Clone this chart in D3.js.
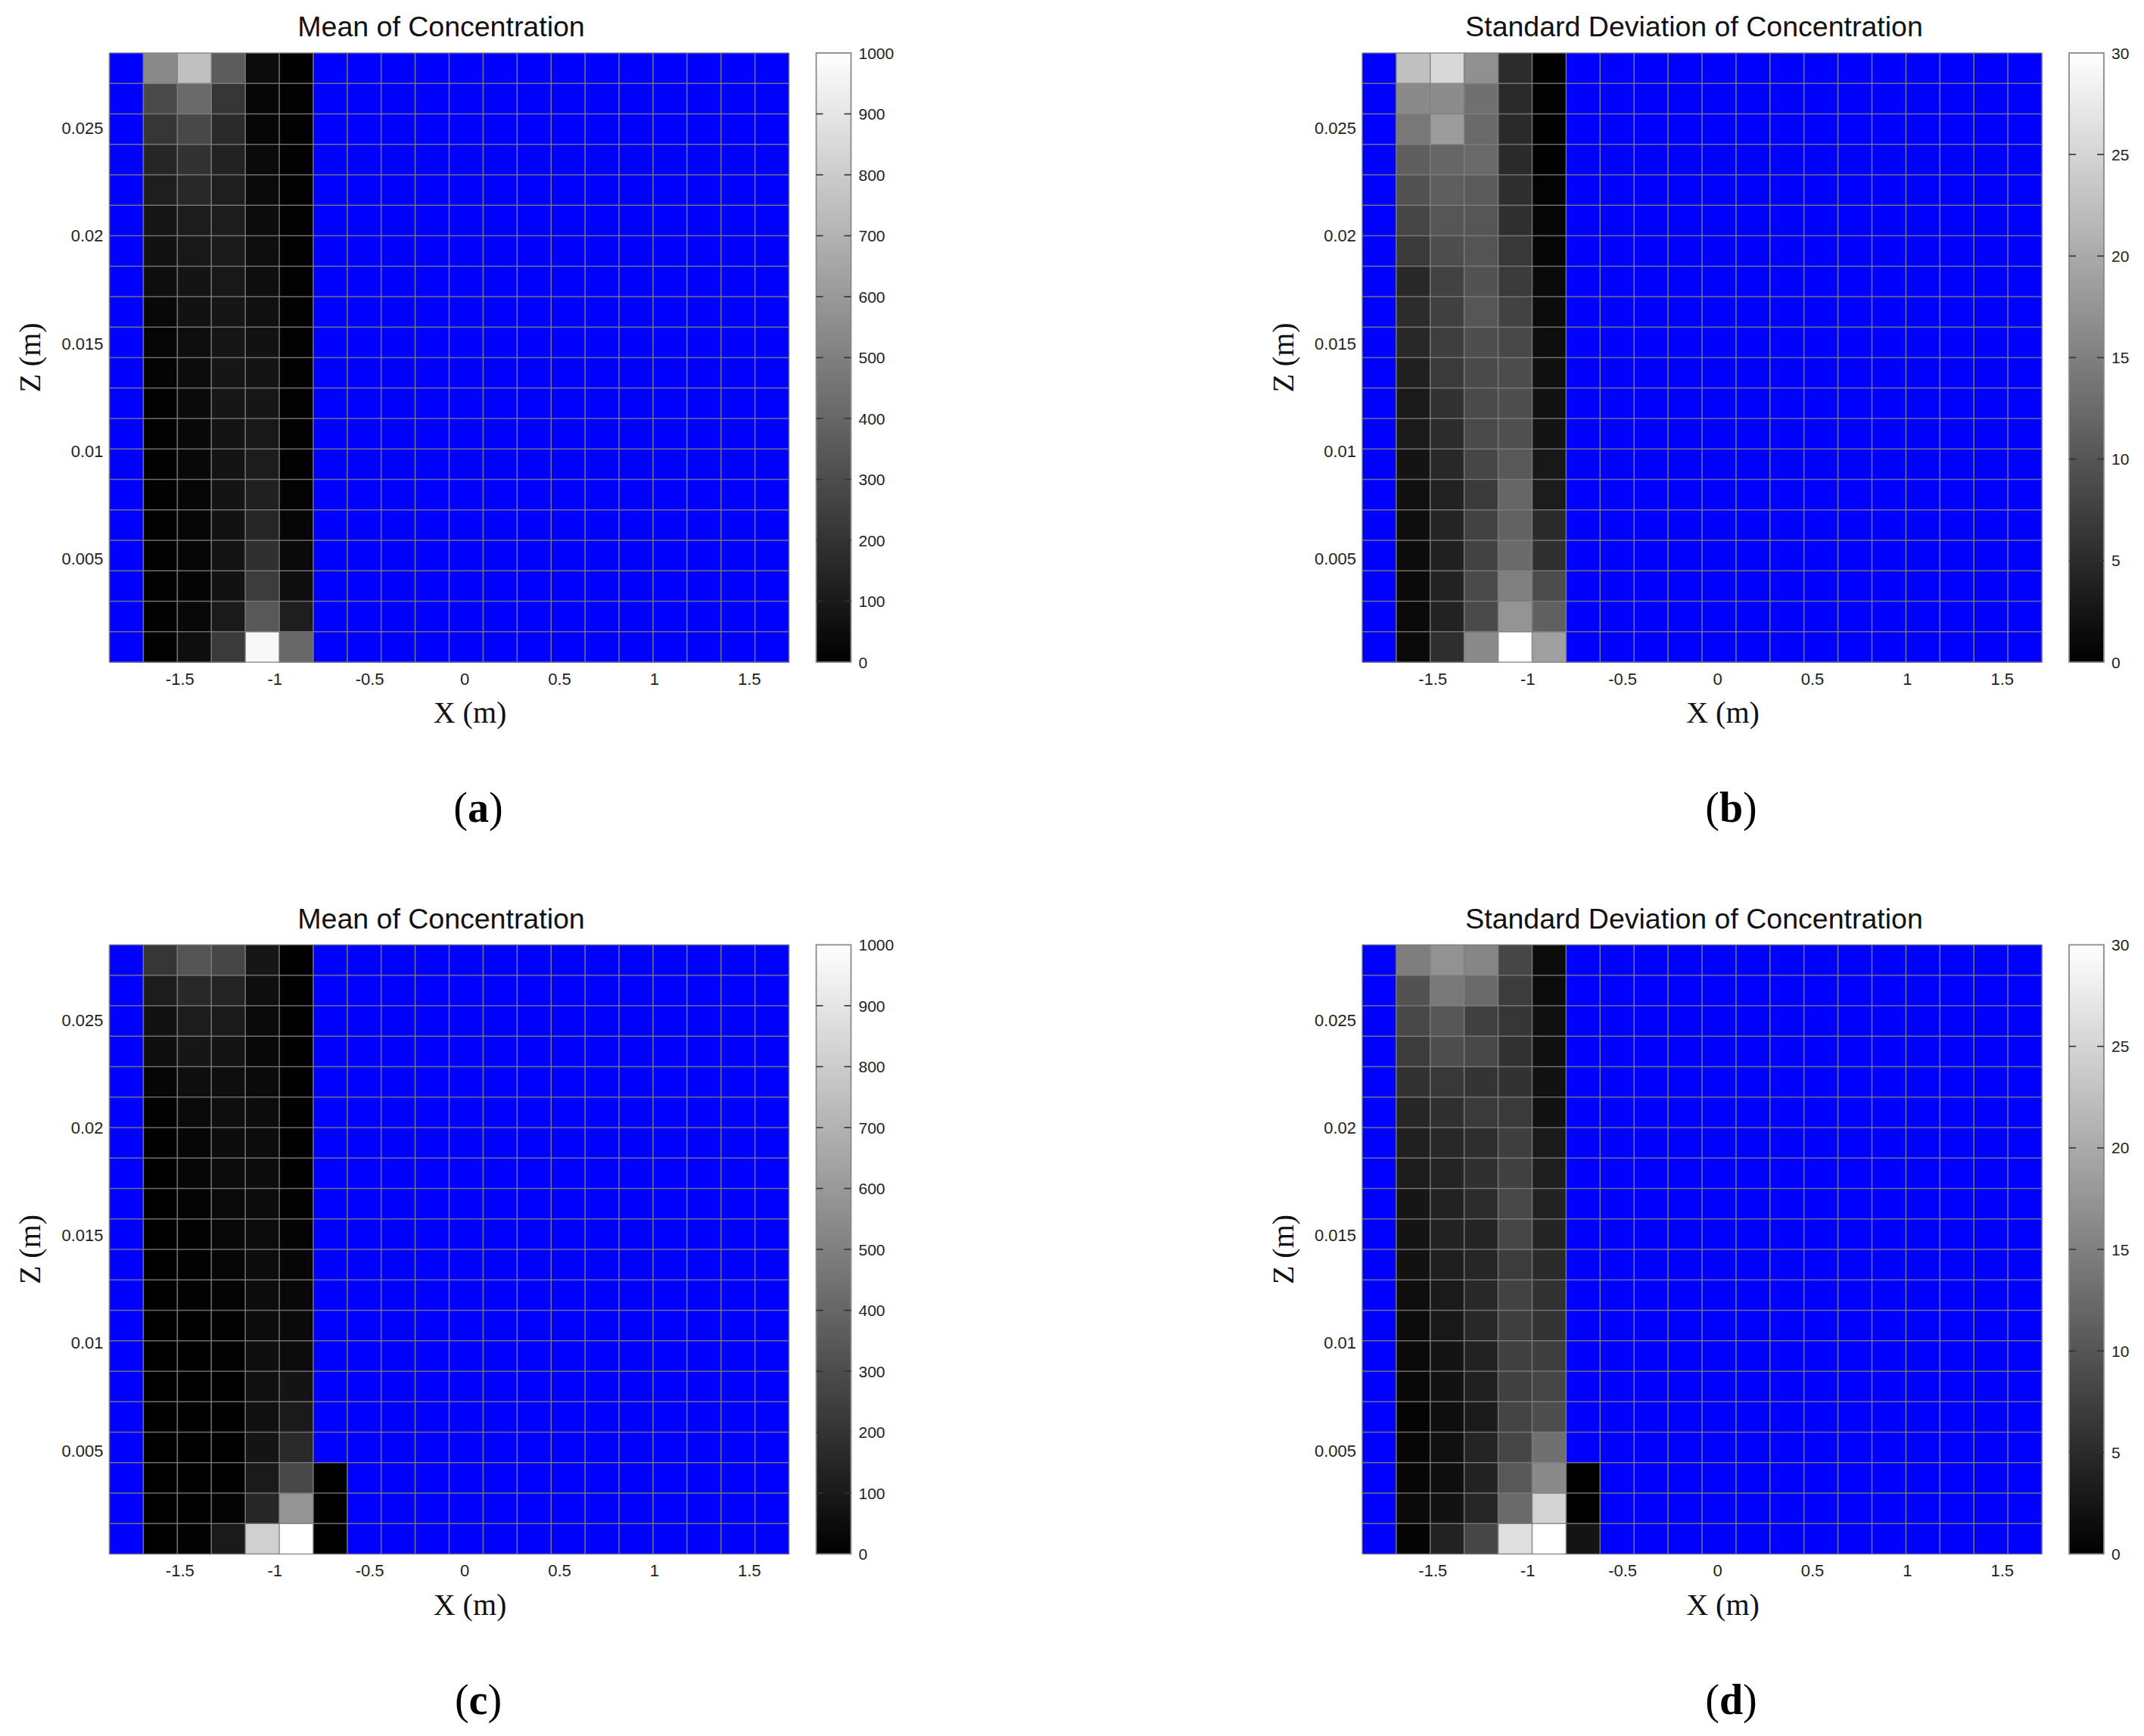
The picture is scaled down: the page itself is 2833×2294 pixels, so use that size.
<!DOCTYPE html>
<html>
<head>
<meta charset="utf-8">
<script src="https://cdn.jsdelivr.net/npm/d3@7/dist/d3.min.js"></script>
<style>
  html, body { margin: 0; padding: 0; background: #fff; }
  svg { display: block; }
</style>
</head>
<body>
<script>
// ---------- DATA ----------
// Grid: 20 columns in X (m), 20 rows in Z (m)
const xStart = -1.87, xStep = 0.179, nCols = 20;
const zStart = 0.0002, zStep = 0.001415, nRows = 20;

const xTicks = [-1.5, -1, -0.5, 0, 0.5, 1, 1.5];
const zTicks = [0.005, 0.01, 0.015, 0.02, 0.025];
const meanTicks = [0, 100, 200, 300, 400, 500, 600, 700, 800, 900, 1000];
const stdTicks = [0, 5, 10, 15, 20, 25, 30];

// Values for columns 2..6 (and 7) starting at column index 1; rows from bottom (z small) to top.
// Cells not listed are empty (drawn blue).
const meanA = [
  [8, 55, 227, 973, 408],
  [8, 31, 102, 345, 118],
  [8, 16, 71, 235, 55],
  [8, 24, 78, 188, 39],
  [8, 24, 71, 149, 24],
  [8, 24, 78, 125, 16],
  [8, 31, 78, 110, 8],
  [8, 31, 78, 94, 8],
  [8, 39, 86, 86, 8],
  [16, 47, 86, 78, 8],
  [24, 55, 86, 71, 8],
  [31, 71, 86, 63, 8],
  [55, 78, 94, 55, 8],
  [71, 94, 102, 55, 8],
  [86, 110, 110, 47, 8],
  [118, 157, 118, 39, 8],
  [149, 196, 133, 39, 8],
  [212, 282, 165, 24, 8],
  [290, 416, 212, 24, 8],
  [541, 753, 361, 47, 4]
];
const stdB = [
  [1.2, 5.4, 16.2, 30, 18.8],
  [1.2, 4.0, 8.7, 17.4, 11.3],
  [1.2, 4.0, 8.7, 15.1, 8.9],
  [1.4, 3.8, 7.8, 12.5, 5.6],
  [1.6, 4.2, 7.8, 11.5, 4.9],
  [1.9, 4.0, 6.8, 12.0, 3.3],
  [2.4, 4.7, 8.2, 10.4, 2.8],
  [3.1, 5.2, 8.7, 9.4, 2.4],
  [3.1, 5.9, 8.7, 9.2, 2.1],
  [3.8, 6.8, 8.7, 8.9, 1.9],
  [4.7, 7.3, 9.2, 8.5, 1.6],
  [5.2, 7.5, 10.1, 7.8, 1.4],
  [4.7, 7.8, 9.6, 6.8, 1.2],
  [6.8, 9.2, 9.9, 6.6, 0.7],
  [8.2, 10.1, 10.1, 5.6, 0.7],
  [9.6, 11.1, 10.6, 5.4, 0.5],
  [11.1, 12.0, 12.5, 4.9, 0.1],
  [14.1, 18.4, 12.5, 4.9, 0.1],
  [16.2, 16.5, 13.2, 4.9, 0.2],
  [22.6, 25.4, 16.9, 5.2, 0.1]
];
const meanC = [
  [0, 8, 102, 816, 1000, 0],
  [0, 0, 16, 149, 580, 0],
  [0, 0, 0, 102, 282, 0],
  [0, 0, 0, 78, 165],
  [0, 0, 0, 63, 102],
  [0, 0, 0, 63, 78],
  [0, 0, 8, 55, 47],
  [0, 0, 8, 47, 39],
  [0, 8, 16, 47, 31],
  [0, 8, 24, 47, 24],
  [0, 8, 31, 47, 16],
  [0, 16, 39, 47, 8],
  [0, 24, 47, 47, 4],
  [4, 24, 47, 47, 4],
  [8, 39, 55, 47, 4],
  [24, 55, 55, 39, 4],
  [55, 86, 78, 31, 4],
  [71, 110, 102, 39, 2],
  [110, 157, 141, 55, 2],
  [212, 329, 275, 86, 2]
];
const stdD = [
  [0.5, 4.0, 8.2, 26.4, 30, 2.4],
  [1.2, 2.1, 4.5, 12.5, 24.9, 0],
  [0.7, 1.6, 4.0, 10.4, 16.2, 0],
  [0.7, 1.9, 4.2, 8.2, 13.2],
  [0.5, 1.6, 3.1, 8.0, 9.2],
  [0.9, 2.1, 3.8, 7.5, 8.2],
  [1.2, 2.4, 4.0, 7.5, 7.3],
  [1.4, 2.8, 4.7, 7.3, 6.1],
  [1.6, 3.1, 4.7, 7.8, 5.9],
  [2.1, 3.5, 4.5, 7.1, 4.9],
  [2.4, 4.0, 4.2, 8.2, 4.2],
  [2.6, 4.0, 5.2, 8.5, 4.0],
  [3.3, 4.2, 5.6, 7.5, 3.5],
  [3.8, 4.7, 5.4, 7.3, 3.1],
  [4.5, 5.6, 6.8, 6.8, 2.1],
  [5.9, 6.6, 6.1, 5.9, 2.1],
  [7.1, 9.2, 8.5, 5.9, 1.9],
  [8.5, 10.1, 7.5, 6.4, 1.9],
  [9.6, 14.1, 12.5, 7.1, 1.4],
  [14.8, 17.2, 15.8, 8.2, 1.4]
];
const firstDataCol = 1;

const panels = [
  { tag: 'a', title: 'Mean of Concentration', data: meanA, max: 1000, ticks: meanTicks, col: 0, row: 0 },
  { tag: 'b', title: 'Standard Deviation of Concentration', data: stdB, max: 30, ticks: stdTicks, col: 1, row: 0 },
  { tag: 'c', title: 'Mean of Concentration', data: meanC, max: 1000, ticks: meanTicks, col: 0, row: 1 },
  { tag: 'd', title: 'Standard Deviation of Concentration', data: stdD, max: 30, ticks: stdTicks, col: 1, row: 1 }
];

// ---------- LAYOUT ----------
const W = 2833, H = 2294;
const plotW = 898, plotH = 805;
const colX = [144.5, 1800];
const rowY = [70, 1248.5];
const SANS = "'Liberation Sans', Arial, Helvetica, sans-serif";
const SERIF = "'Liberation Serif', 'Times New Roman', serif";

const svg = d3.select('body').append('svg')
  .attr('width', W).attr('height', H)
  .attr('viewBox', `0 0 ${W} ${H}`);
svg.append('rect').attr('width', W).attr('height', H).attr('fill', '#fff');

const defs = svg.append('defs');
const grad = defs.append('linearGradient').attr('id', 'grayGrad')
  .attr('x1', 0).attr('y1', 1).attr('x2', 0).attr('y2', 0);
grad.append('stop').attr('offset', '0%').attr('stop-color', '#000');
grad.append('stop').attr('offset', '100%').attr('stop-color', '#fff');

const xEdges = d3.range(nCols + 1).map(i => xStart + i * xStep);
const zEdges = d3.range(nRows + 1).map(j => zStart + j * zStep);

panels.forEach(p => {
  const left = colX[p.col], top = rowY[p.row];
  const g = svg.append('g').attr('transform', `translate(${left},${top})`);

  const x = d3.scaleLinear().domain([xEdges[0], xEdges[nCols]]).range([0, plotW]);
  const y = d3.scaleLinear().domain([zEdges[0], zEdges[nRows]]).range([plotH, 0]);
  const color = d3.scaleLinear().domain([0, p.max]).range(['#000000', '#ffffff']).clamp(true);

  // cells
  const cells = [];
  for (let j = 0; j < nRows; j++) {
    for (let i = 0; i < nCols; i++) {
      const rowVals = p.data[j] || [];
      const k = i - firstDataCol;
      const v = (k >= 0 && k < rowVals.length) ? rowVals[k] : null;
      cells.push({ i, j, v });
    }
  }
  g.append('g').selectAll('rect').data(cells).join('rect')
    .attr('x', d => x(xEdges[d.i]))
    .attr('y', d => y(zEdges[d.j + 1]))
    .attr('width', d => x(xEdges[d.i + 1]) - x(xEdges[d.i]) + 0.5)
    .attr('height', d => y(zEdges[d.j]) - y(zEdges[d.j + 1]) + 0.5)
    .attr('fill', d => d.v === null ? '#0000ff' : color(d.v));

  // grid lines (cell edges)
  const grid = g.append('g').attr('stroke', '#808080').attr('stroke-width', 1.6).attr('stroke-opacity', 0.85);
  grid.selectAll('line.v').data(xEdges).join('line').attr('class', 'v')
    .attr('x1', d => x(d)).attr('x2', d => x(d)).attr('y1', 0).attr('y2', plotH);
  grid.selectAll('line.h').data(zEdges).join('line').attr('class', 'h')
    .attr('x1', 0).attr('x2', plotW).attr('y1', d => y(d)).attr('y2', d => y(d));

  // x axis
  const xa = g.append('g').attr('transform', `translate(0,${plotH})`)
    .call(d3.axisBottom(x).tickValues(xTicks).tickSize(0).tickPadding(14).tickFormat(d => String(d)));
  xa.select('.domain').remove();
  xa.selectAll('text').attr('font-family', SANS).attr('font-size', 22).attr('fill', '#222');

  // y axis
  const ya = g.append('g')
    .call(d3.axisLeft(y).tickValues(zTicks).tickSize(0).tickPadding(8).tickFormat(d => String(d)));
  ya.select('.domain').remove();
  ya.selectAll('text').attr('font-family', SANS).attr('font-size', 22).attr('fill', '#222');

  // title
  g.append('text').attr('x', 438.5).attr('y', -22).attr('text-anchor', 'middle')
    .attr('font-family', SANS).attr('font-size', 37.5).attr('fill', '#111').text(p.title);

  // axis labels
  g.append('text').attr('x', 476.5).attr('y', plotH + 80).attr('text-anchor', 'middle')
    .attr('font-family', SERIF).attr('font-size', 40).attr('fill', '#111').text('X (m)');
  g.append('text').attr('transform', `translate(-105,${plotH / 2}) rotate(-90)`)
    .attr('text-anchor', 'middle').attr('dominant-baseline', 'central')
    .attr('font-family', SERIF).attr('font-size', 40).attr('fill', '#111').text('Z (m)');

  // panel tag
  const tg = g.append('text').attr('x', 487.5).attr('y', 1016).attr('text-anchor', 'middle')
    .attr('font-family', SERIF).attr('font-size', 56).attr('fill', '#000');
  tg.append('tspan').text('(');
  tg.append('tspan').attr('font-weight', 'bold').text(p.tag);
  tg.append('tspan').text(')');

  // colorbar
  const cbX = 934, cbW = 46;
  const cb = g.append('g').attr('transform', `translate(${cbX},0)`);
  const cs = d3.scaleLinear().domain([0, p.max]).range([plotH, 0]);
  cb.append('rect').attr('width', cbW).attr('height', plotH).attr('fill', 'url(#grayGrad)')
    .attr('stroke', '#8a8a8a').attr('stroke-width', 1.8);
  const inner = p.ticks.filter(t => t > 0 && t < p.max);
  cb.selectAll('line.tl').data(inner).join('line').attr('class', 'tl')
    .attr('x1', 0).attr('x2', 9).attr('y1', d => cs(d)).attr('y2', d => cs(d))
    .attr('stroke', '#333').attr('stroke-width', 1.6);
  cb.selectAll('line.tr').data(inner).join('line').attr('class', 'tr')
    .attr('x1', cbW - 9).attr('x2', cbW).attr('y1', d => cs(d)).attr('y2', d => cs(d))
    .attr('stroke', '#333').attr('stroke-width', 1.6);
  cb.selectAll('text').data(p.ticks).join('text')
    .attr('x', cbW + 10).attr('y', d => cs(d)).attr('dominant-baseline', 'central')
    .attr('font-family', SANS).attr('font-size', 21).attr('fill', '#222')
    .text(d => String(d));
});
</script>
</body>
</html>
